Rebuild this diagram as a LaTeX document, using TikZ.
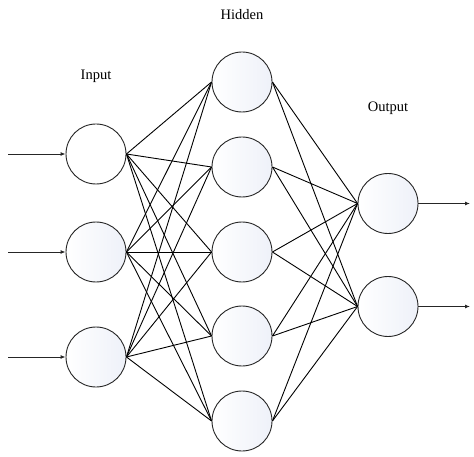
\documentclass[tikz,border=0pt]{standalone}
\usepackage{fontspec}
\setmainfont{Liberation Serif}
\usetikzlibrary{arrows.meta}
\definecolor{nodeshade}{RGB}{238,241,249}
\tikzset{
  neuron/.style={circle, draw=black!85, line width=0.9pt, minimum size=60pt, inner sep=0pt, left color=white, right color=nodeshade},
  plainneuron/.style={neuron, left color=white, right color=white},
  link/.style={line width=0.9pt, black},
  io/.style={line width=0.9pt, black!85, -{Latex[length=5pt,width=4pt]}},
  layerlabel/.style={font=\fontsize{14.5}{17}\selectfont, inner sep=0pt}
}
\begin{document}
\begin{tikzpicture}[x=1pt,y=-1pt]
\useasboundingbox (0,0) rectangle (474,457);
% input layer
\node[plainneuron] (i1) at (96,154) {};
\node[neuron] (i2) at (96,252) {};
\node[neuron] (i3) at (96,357) {};
% hidden layer
\node[neuron] (h1) at (242,82) {};
\node[neuron] (h2) at (242,167) {};
\node[neuron] (h3) at (242,252) {};
\node[neuron] (h4) at (242,336) {};
\node[neuron] (h5) at (242,421) {};
% output layer
\node[neuron] (o1) at (388,203.5) {};
\node[neuron] (o2) at (388,306.5) {};
% labels
\node[layerlabel] (lin) at (96,76) {Input};
\node[layerlabel] (lhid) at (242,15) {Hidden};
\node[layerlabel] (lout) at (388,108) {Output};
% free ends
\coordinate (s1) at (8,154);
\coordinate (s2) at (8,252);
\coordinate (s3) at (8,357);
\coordinate (e1) at (470,203.5);
\coordinate (e2) at (470,306.5);
% connections
\foreach \a in {1,2,3}{
  \foreach \b in {1,...,5}{
    \draw[link] (i\a.east) -- (h\b.west);
  }
}
\foreach \a in {1,...,5}{
  \foreach \b in {1,2}{
    \draw[link] (h\a.east) -- (o\b.west);
  }
}
\draw[io] (s1) -- (i1.west);
\draw[io] (s2) -- (i2.west);
\draw[io] (s3) -- (i3.west);
\draw[io] (o1.east) -- (e1);
\draw[io] (o2.east) -- (e2);
\end{tikzpicture}
\end{document}
